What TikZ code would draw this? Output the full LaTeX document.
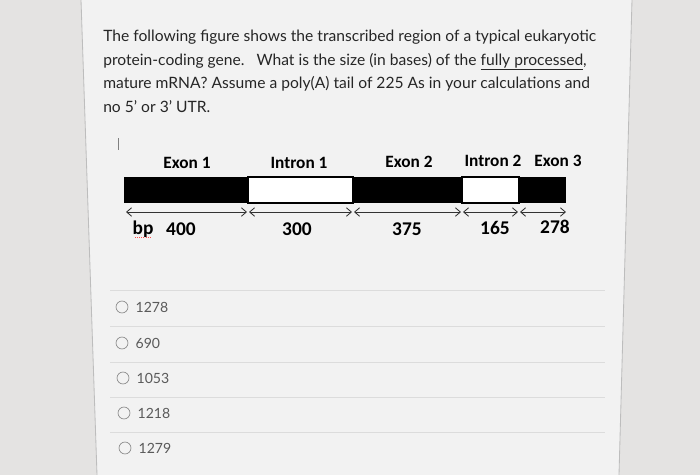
\documentclass[tikz,border=0pt]{standalone}
\usepackage{fontspec}
\setmainfont{Lato}
\newfontfamily\calibri{Carlito}
\usetikzlibrary{arrows.meta, positioning, calc}
\definecolor{PageGray}{HTML}{E4E3E2}
\definecolor{CardGray}{HTML}{F2F2F2}
\definecolor{EdgeGray}{HTML}{BDBDBD}
\definecolor{RuleGray}{HTML}{DCDCDC}
\definecolor{TextDark}{HTML}{262626}
\definecolor{OptGray}{HTML}{5A5A5A}

\tikzset{
  qline/.style={anchor=base west, inner sep=0pt, text=TextDark, font=\fontsize{11.1}{13}\selectfont},
  seglabel/.style={inner sep=0pt, font=\calibri\bfseries\fontsize{12.3}{14}\selectfont},
  sizelabel/.style={inner sep=0pt, font=\calibri\bfseries\fontsize{13.8}{16}\selectfont},
  dimarrow/.style={{Straight Barb[length=3.5pt,width=6pt]}-{Straight Barb[length=3.5pt,width=6pt]}, line width=0.6pt, black!80},
  optcircle/.style={circle, draw=OptGray!70, line width=0.5pt, minimum size=8.5pt, inner sep=0pt},
  opttext/.style={anchor=west, inner sep=0pt, text=OptGray, font=\fontsize{10}{12}\selectfont}
}

\begin{document}
\begin{tikzpicture}[x=0.025cm, y=-0.025cm]
  \useasboundingbox (0,0) rectangle (700,475);

  % =====================================================================
  % 1. PAGE AND CARD
  % =====================================================================
  \fill[PageGray] (0,0) rectangle (700,475);
  \fill[CardGray] (81,0) -- (632,0) -- (619,475) -- (97,475) -- cycle;
  \draw[EdgeGray, line width=0.6pt] (81,0) -- (97,475);
  \draw[EdgeGray, line width=0.6pt] (632,0) -- (619,475);

  % =====================================================================
  % 2. QUESTION TEXT
  % =====================================================================
  \node[qline] (line1) at (103,41) {The following figure shows the transcribed region of a typical eukaryotic};
  \node[qline] (line2) at (103,65) {protein-coding gene.\ \ \ What is the size (in bases) of the \underline{fully processed},};
  \node[qline] (line3) at (103,88) {mature mRNA? Assume a poly(A) tail of 225 As in your calculations and};
  \node[qline] (line4) at (103,112) {no 5' or 3' UTR.};

  % cursor
  \draw[gray, line width=0.5pt] (118,138) -- (118,150);

  % =====================================================================
  % 3. GENE BAR
  % =====================================================================
  \def\BarTop{177}
  \def\BarBot{203}
  \fill[black] (124,\BarTop) rectangle (248,\BarBot);
  \filldraw[fill=white, draw=black, line width=1pt] (248,\BarTop) rectangle (353,\BarBot);
  \fill[black] (353,\BarTop) rectangle (462,\BarBot);
  \filldraw[fill=white, draw=black, line width=1pt] (462,\BarTop) rectangle (519,\BarBot);
  \fill[black] (519,\BarTop) rectangle (566,\BarBot);

  % segment names
  \node[seglabel] (exon1)   at (187,163) {Exon 1};
  \node[seglabel] (intron1) at (299,163) {Intron 1};
  \node[seglabel] (exon2)   at (409,162) {Exon 2};
  \node[seglabel] (intron2) at (493,161) {Intron 2};
  \node[seglabel] (exon3)   at (558,161) {Exon 3};

  % =====================================================================
  % 4. LENGTH ARROWS
  % =====================================================================
  \coordinate (b0) at (125,212);
  \coordinate (b1) at (248,212);
  \coordinate (b2) at (353,212);
  \coordinate (b3) at (462,212);
  \coordinate (b4) at (519,212);
  \coordinate (b5) at (567,212);
  \foreach \from/\to in {b0/b1, b1/b2, b2/b3, b3/b4, b4/b5}
    \draw[dimarrow] ($(\from)+(1,0)$) -- ($(\to)+(-1,0)$);

  \node[sizelabel] (bp)   at (143,229) {bp};
  \draw[red!70, line width=0.5pt, densely dotted] (135,237) -- (151,237);
  \node[sizelabel] (len1) at (181,229) {400};
  \node[sizelabel] (len2) at (297,229) {300};
  \node[sizelabel] (len3) at (407,229) {375};
  \node[sizelabel] (len4) at (495,228) {165};
  \node[sizelabel] (len5) at (555,227) {278};

  % =====================================================================
  % 5. ANSWER OPTIONS
  % =====================================================================
  \foreach \y in {290,326,362,397,432}
    \draw[RuleGray, line width=0.6pt] (110,\y) -- (605,\y);

  \foreach \i/\y/\x/\val in {1/307/122/1278, 2/343/122/690, 3/378/123/1053, 4/413/124/1218, 5/448/125/1279} {
    \node[optcircle] (opt\i) at (\x,\y) {};
    \node[opttext, right=5pt of opt\i] (val\i) {\val};
  }

\end{tikzpicture}
\end{document}
